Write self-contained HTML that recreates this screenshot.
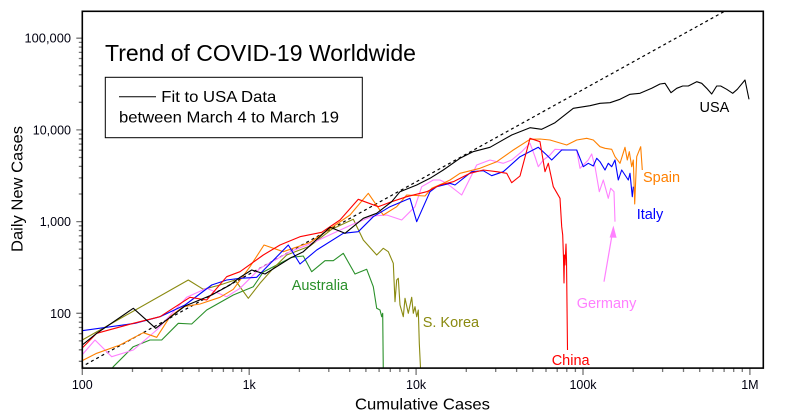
<!DOCTYPE html>
<html><head><meta charset="utf-8"><style>
html,body{margin:0;padding:0;background:#fff;}
svg{display:block;}
text{font-family:"Liberation Sans",Arial,sans-serif;}
</style></head><body>
<svg width="800" height="418" viewBox="0 0 800 418" xmlns="http://www.w3.org/2000/svg">
<rect x="0" y="0" width="800" height="418" fill="#fff"/>
<defs><clipPath id="pa"><rect x="82.3" y="11.3" width="681" height="356.8"/></clipPath></defs>

<!-- ticks -->
<g stroke="#777" stroke-width="1.3" fill="none">
<path d="M82.3,368 v7 M249.2,368 v7 M416.1,368 v7 M583,368 v7 M749.9,368 v7"/>
<path d="M132.5,368v4M161.9,368v4M182.8,368v4M199,368v4M212.2,368v4M223.4,368v4M233,368v4M241.6,368v4
M299.4,368v4M328.8,368v4M349.7,368v4M365.9,368v4M379.1,368v4M390.3,368v4M399.9,368v4M408.5,368v4
M466.3,368v4M495.7,368v4M516.6,368v4M532.8,368v4M546,368v4M557.2,368v4M566.8,368v4M575.4,368v4
M633.2,368v4M662.6,368v4M683.5,368v4M699.7,368v4M712.9,368v4M724.1,368v4M733.7,368v4M742.3,368v4"/>
<path d="M82.3,313.3h-6M82.3,221.6h-6M82.3,129.9h-6M82.3,38.2h-6"/>
<path d="M82.3,361.3h-3.5M82.3,349.8h-3.5M82.3,340.9h-3.5M82.3,333.6h-3.5M82.3,327.5h-3.5M82.3,322.2h-3.5M82.3,317.5h-3.5
M82.3,285.7h-3.5M82.3,269.6h-3.5M82.3,258.1h-3.5M82.3,249.2h-3.5M82.3,241.9h-3.5M82.3,235.8h-3.5M82.3,230.5h-3.5M82.3,225.8h-3.5
M82.3,194h-3.5M82.3,177.9h-3.5M82.3,166.4h-3.5M82.3,157.5h-3.5M82.3,150.2h-3.5M82.3,144.1h-3.5M82.3,138.8h-3.5M82.3,134.1h-3.5
M82.3,102.3h-3.5M82.3,86.2h-3.5M82.3,74.7h-3.5M82.3,65.8h-3.5M82.3,58.5h-3.5M82.3,52.4h-3.5M82.3,47.1h-3.5M82.3,42.4h-3.5"/>
</g>

<!-- tick labels -->
<g font-size="12.5" fill="#000010">
<text x="82.3" y="389" text-anchor="middle">100</text>
<text x="249.2" y="389" text-anchor="middle">1k</text>
<text x="416.1" y="389" text-anchor="middle">10k</text>
<text x="583" y="389" text-anchor="middle">100k</text>
<text x="749.9" y="389" text-anchor="middle">1M</text>
<text x="71" y="317.8" text-anchor="end">100</text>
<text x="71" y="226.1" text-anchor="end">1,000</text>
<text x="71" y="134.4" text-anchor="end">10,000</text>
<text x="71" y="42.7" text-anchor="end" textLength="46.5" lengthAdjust="spacingAndGlyphs">100,000</text>
</g>

<text x="422.5" y="409.5" font-size="16" text-anchor="middle" fill="#000" textLength="135" lengthAdjust="spacingAndGlyphs">Cumulative Cases</text>
<text transform="translate(22.5,189) rotate(-90)" font-size="16" text-anchor="middle" fill="#000" textLength="126" lengthAdjust="spacingAndGlyphs">Daily New Cases</text>

<!-- title and legend -->
<text x="105" y="61" font-size="23" fill="#000" textLength="311" lengthAdjust="spacingAndGlyphs">Trend of COVID-19 Worldwide</text>
<rect x="105.3" y="77.3" width="257" height="60.4" fill="#fff" stroke="#000" stroke-width="1"/>
<line x1="119" y1="96.7" x2="156" y2="96.7" stroke="#000" stroke-width="1"/>
<text x="161.3" y="101.8" font-size="16" fill="#000" textLength="115" lengthAdjust="spacingAndGlyphs">Fit to USA Data</text>
<text x="119" y="122.4" font-size="16" fill="#000" textLength="220" lengthAdjust="spacingAndGlyphs">between March 4 to March 19</text>

<g clip-path="url(#pa)" fill="none" stroke-width="1.1" stroke-linejoin="round">
<!-- fit -->
<line x1="70" y1="373.2" x2="760" y2="-8.3" stroke="#000" stroke-width="1.2" stroke-dasharray="3,3"/>
<!-- Australia -->
<polyline stroke="#2a902a" points="110,372 113.3,366.7 133.3,346.7 150,340 161.7,340 178.3,323.3 191.7,324 206.7,310 233.3,295 253.3,286.7 263.3,272 291.7,257.3 303.3,256 311.7,271.7 325,260.7 333.3,260.7 343.3,253.3 355,274 366.7,269.3 373.3,286.7 376.7,308.3 380,310 381.7,316.7 382.7,313.3 383.3,372"/>
<!-- S. Korea -->
<polyline stroke="#8a8a10" points="82.3,340 188.3,280 203.3,289.3 220,285 235,280 248.3,298.3 260,283.3 271.7,270 286.7,255 310,246 331.7,229.3 353.3,219.3 363.3,240 376.7,255 383.3,248.3 388.3,251.7 393.3,263.3 395,301.7 396.7,280 398.3,278.3 400,305 403.3,316.7 405,298.3 408.3,313.3 411.7,297.3 413.3,313.3 415,306.7 416.7,316.7 418.3,310 419.3,343.3 420.7,372"/>
<!-- Germany -->
<polyline stroke="#ff80ff" points="82,355 95,340 111.7,356.7 133.3,350 156.7,330 186.7,297.3 206.7,288.3 226.7,296.7 240,288.3 260,268.3 290,251.7 311.7,243.3 333.3,233.3 353.3,224 373.3,216 386.7,215 401.7,220 415,206.7 421.7,186.7 433.3,180 440,180 446.7,183.3 461.7,195 476.7,165 490,160 503.3,163.3 511.7,160 521.7,151.7 530,143.3 535,156.7 538.3,166.7 543.3,160 550,155 555,149.3 566.7,150 576.7,150 580,168.3 588.3,160 591.7,154 595,166.7 599.3,191.7 603.3,180 608.3,198.3 610.7,188.3 614,191.7 615,221.7"/>
<!-- Spain -->
<polyline stroke="#ff8000" points="82,360.7 96.7,353.3 120,345 143.3,332.7 156.7,337.3 170,316.7 183.3,306.7 200,304 220,297.3 233.3,289.3 250,266.7 264,245 283.3,251.7 310,242.5 331.7,227.5 350,215 368.3,193.3 383.3,215 396.7,206.7 406.7,195 425,196 431.7,188.3 443.3,183.3 450,180 460,173.3 480,168.3 496.7,161.7 513.3,150 530,139.3 540,139 550,140 566.7,145 576.7,140 586.7,138.3 593.3,140 600,146.7 605,148.3 611.7,149.3 615,156.7 620,163.3 625,147.3 627.3,160 629.3,151.7 631.7,166.7 633.3,160 634.7,204 636.7,156.7 640.7,146.7 642.3,170"/>
<!-- Italy -->
<polyline stroke="#0000ff" points="82,330.7 135,323.3 160,316.7 185,305 211.7,285 226.7,280 240,278.3 256.7,277.3 288.3,245 300,264 316.7,250 343.3,233.3 358.3,231.7 373.3,216.7 390,206.7 410,198.3 416.7,221.7 430,191.7 436.7,186.7 450,183.3 455,185 471.7,171.7 483.3,170.7 491.7,175.7 503.3,171.7 520,156.7 538.3,147.3 546.7,155 551.7,160 561.7,150 576.7,150 583.3,166.7 588.3,163.3 593.3,166 596.7,158.3 600,161.7 605,170 608.3,163.3 611.7,166.7 615,160 618.3,180 621.7,170 625,175 628.3,180 630,173.3 632.3,196.7 633.3,186.7"/>
<!-- China -->
<polyline stroke="#ff0000" points="82,348.3 96.7,333.3 133.3,323.3 160,316.7 190,297.3 206.7,300 226.7,276.7 240,271.7 263.3,255 280,245 300,236.7 321.7,232.3 340,220 358.3,199.3 378.3,206.7 391.7,201.7 406.7,196.7 426.7,191.7 440,185 453.3,181.7 470,173.3 483.3,170 496.7,171.7 506.7,173.3 511.7,182.7 520,176 530,138.3 540,141.7 545,171.7 548.3,163.3 553.3,186.7 560,198.3 561.7,226.7 562.7,235 563.5,258 564,283 564.5,255 565,265 566,244 566.5,260 567.5,350"/>
<!-- USA -->
<polyline stroke="#000" points="82.3,345 96.7,333.3 133.3,308.3 155.7,328.3 185,306 211.7,295 230,285 240,277.3 251.7,270 265,274 290,258.3 303.3,251.7 330,227.3 345,233.3 363.3,218.3 376.7,213.3 391.7,201.7 400,191.7 416.7,185 430,178.3 443.3,170 460,158.3 473,151.7 490,147.3 511.7,135 530,127.7 541.7,129.3 555,122.7 573.3,108.3 590,105.7 600,103.3 610,102.7 620,99.3 630,94.3 640,93.3 651.7,88.3 660,84 665,83.3 671,92.7 676.7,88.3 682.7,86 688.3,86 696.7,81.7 701.7,83.3 706.7,88.3 711.7,94 716.7,86 720.7,86 726.7,89.3 732.7,93.3 737.3,89.3 745,80 749,99.3"/>
</g>

<!-- Germany arrow -->
<line x1="604" y1="281.7" x2="612.2" y2="234" stroke="#ff80ff" stroke-width="1.2"/>
<polygon points="613.4,225.5 609.6,237.5 616.6,237.8" fill="#ff80ff"/>

<!-- series labels -->
<g font-size="14.5">
<text x="699.5" y="112" fill="#000">USA</text>
<text x="643" y="182" fill="#ff8000">Spain</text>
<text x="636.7" y="219" fill="#0000ff">Italy</text>
<text x="576.7" y="308" fill="#ff80ff">Germany</text>
<text x="291.7" y="290" fill="#2a902a">Australia</text>
<text x="422.7" y="327" fill="#8a8a10">S. Korea</text>
<text x="551.7" y="365" fill="#ff0000">China</text>
</g>

<!-- frame -->
<rect x="82.3" y="11.3" width="681" height="356.8" fill="none" stroke="#000" stroke-width="1.6"/>
</svg>
</body></html>
